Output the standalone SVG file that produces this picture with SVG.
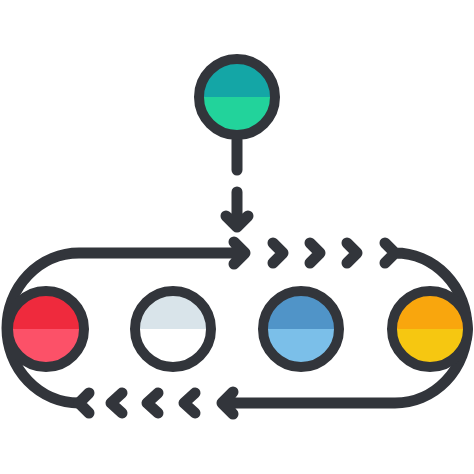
<svg xmlns="http://www.w3.org/2000/svg" width="474" height="474" viewBox="0 0 474 474">
<style>
.ln{fill:none;stroke:#32353b;stroke-width:11;stroke-linecap:round;stroke-linejoin:round}
.ring{fill:none;stroke:#32353b;stroke-width:10}
</style>
<rect width="474" height="474" fill="#ffffff"/>
<g id="connectors">
<path class="ln" d="M237 140 L237 170"/>
<path class="ln" d="M237 192 L237 227 M226 216 L237 227 L248 216"/>
<path class="ln" d="M79 403 A72 75 0 0 1 79 253 L245 253 M234 242 L245 253 L234 264"/>
<path class="ln" d="M273 243 L283 253 L273 263 M310 243 L320 253 L310 263 M347 243 L357 253 L347 263"/>
<path class="ln" d="M385 243 L395 253 L385 263 M395 253 A72 75 0 0 1 395 403 L222 403 M233 392 L222 403 L233 414"/>
<path class="ln" d="M122 393 L111 403 L122 413 M158 393 L147 403 L158 413 M195 393 L184 403 L195 413"/>
<path class="ln" d="M89 393 L79 403 L89 413"/>
</g>
<g id="top">
<circle cx="237" cy="97" r="38" fill="#22d39b"/>
<path d="M199 97 A38 38 0 0 1 275 97 Z" fill="#14a6a6"/>
<circle class="ring" cx="237" cy="97" r="38"/>
</g>
<g id="red">
<circle cx="46" cy="329" r="38" fill="#fc5168"/>
<path d="M8 329 A38 38 0 0 1 84 329 Z" fill="#ef2a3d"/>
<circle class="ring" cx="46" cy="329" r="38"/>
</g>
<g id="white">
<circle cx="173" cy="329" r="38" fill="#ffffff"/>
<path d="M135 329 A38 38 0 0 1 211 329 Z" fill="#d9e4ea"/>
<circle class="ring" cx="173" cy="329" r="38"/>
</g>
<g id="blue">
<circle cx="301" cy="329" r="38" fill="#7bbfe9"/>
<path d="M263 329 A38 38 0 0 1 339 329 Z" fill="#5094c8"/>
<circle class="ring" cx="301" cy="329" r="38"/>
</g>
<g id="orange">
<circle cx="430" cy="329" r="38" fill="#f6c711"/>
<path d="M392 329 A38 38 0 0 1 468 329 Z" fill="#f9a60d"/>
<circle class="ring" cx="430" cy="329" r="38"/>
</g>
</svg>
